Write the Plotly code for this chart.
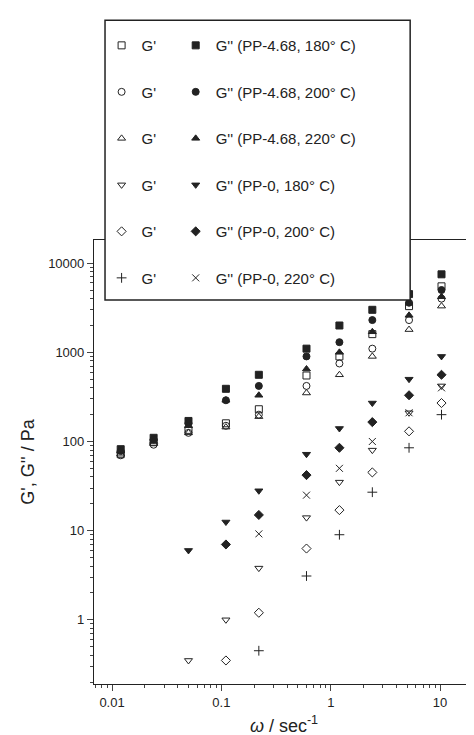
import plotly.graph_objects as go

omega = [0.012, 0.024, 0.05, 0.11, 0.22, 0.6, 1.2, 2.4, 5.2, 10.3]

# PP-4.68 (all 10 frequencies)
g1_180 = [72, 98, 135, 160, 230, 550, 900, 1600, 3300, 5500]
g2_180 = [82, 110, 170, 390, 560, 1100, 2000, 3000, 4500, 7500]
g1_200 = [70, 92, 125, 150, 200, 420, 750, 1100, 2300, 4000]
g2_200 = [78, 105, 160, 290, 420, 900, 1300, 2300, 3600, 5000]
g1_220 = [72, 95, 125, 145, 190, 350, 560, 900, 1800, 3300]
g2_220 = [78, 100, 150, 290, 330, 650, 1000, 1700, 2600, 4200]

# PP-0 (fewer points at low frequency)
w0_180 = omega[2:]
g1_0_180 = [0.35, 1.0, 3.8, 14, 35, 80, 210, 420]
g2_0_180 = [6, 12.5, 28, 72, 140, 270, 500, 900]
w0_200 = omega[3:]
g1_0_200 = [0.35, 1.2, 6.3, 17, 45, 130, 270]
g2_0_200 = [7, 15, 42, 85, 165, 330, 560]
w0_220 = omega[4:]
g1_0_220 = [0.45, 3.1, 9, 27, 85, 200]
g2_0_220 = [9.2, 25, 50, 100, 210, 400]

labels = ["(PP-4.68, 180° C)", "(PP-4.68, 200° C)", "(PP-4.68, 220° C)",
          "(PP-0, 180° C)", "(PP-0, 200° C)", "(PP-0, 220° C)"]

series = [
    (omega, g1_180, g2_180, "square-open", "square"),
    (omega, g1_200, g2_200, "circle-open", "circle"),
    (omega, g1_220, g2_220, "triangle-up-open", "triangle-up"),
    (w0_180, g1_0_180, g2_0_180, "triangle-down-open", "triangle-down"),
    (w0_200, g1_0_200, g2_0_200, "diamond-open", "diamond"),
    (w0_220, g1_0_220, g2_0_220, "cross-thin-open", "x-thin-open"),
]

x_minor = [m * 10 ** e for e in range(-3, 2) for m in range(2, 10)]
y_minor = [m * 10 ** e for e in range(-1, 4) for m in range(2, 10)]

fig = go.Figure()
for i, (w, gp, gpp, sym1, sym2) in enumerate(series):
    fig.add_trace(go.Scatter(
        x=w, y=gp, mode="markers", name="G'", legend="legend",
        legendgroup="a%d" % i,
        marker=dict(symbol=sym1, size=7, color="#222",
                    line=dict(width=1, color="#222"))))
    fig.add_trace(go.Scatter(
        x=w, y=gpp, mode="markers", name="G'' " + labels[i], legend="legend2",
        legendgroup="b%d" % i,
        marker=dict(symbol=sym2, size=7, color="#222",
                    line=dict(width=1, color="#222"))))

font = dict(family="Liberation Sans, Arial", size=15, color="#222")
leg = dict(bgcolor="rgba(0,0,0,0)", font=font, traceorder="grouped",
           tracegroupgap=24, itemwidth=30, yanchor="top", y=1.475)
fig.update_layout(
    width=474, height=735,
    margin=dict(l=86, r=8, t=232, b=59, autoexpand=False),
    paper_bgcolor="white", plot_bgcolor="white",
    font=font,
    legend=dict(leg, x=0.02),
    legend2=dict(leg, x=0.215),
    xaxis=dict(type="log", range=[-2.165, 1.31], showline=True, mirror=True,
               linecolor="#222", linewidth=1.2, showgrid=False, ticks="outside",
               ticklen=6, tickvals=[0.01, 0.1, 1, 10],
               ticktext=["0.01", "0.1", "1", "10"],
               minor=dict(ticks="outside", ticklen=3, showgrid=False,
                          tickmode="array", tickvals=x_minor),
               title=dict(text="<i>ω</i> / sec<sup>-1</sup>", standoff=10),
               tickfont=dict(size=13)),
    yaxis=dict(type="log", range=[-0.72, 4.26], showline=True, mirror=True,
               linecolor="#222", linewidth=1.2, showgrid=False, ticks="outside",
               ticklen=6, tickvals=[1, 10, 100, 1000, 10000],
               ticktext=["1", "10", "100", "1000", "10000"],
               minor=dict(ticks="outside", ticklen=3, showgrid=False,
                          tickmode="array", tickvals=y_minor),
               title=dict(text="G', G'' / Pa", standoff=8),
               tickfont=dict(size=13)),
    shapes=[dict(type="rect", xref="paper", yref="paper", x0=0.029, x1=0.832,
                 y0=0.865, y1=1.495, fillcolor="white",
                 line=dict(color="#222", width=1.5), layer="above")],
)

fig.write_html("out.html")
